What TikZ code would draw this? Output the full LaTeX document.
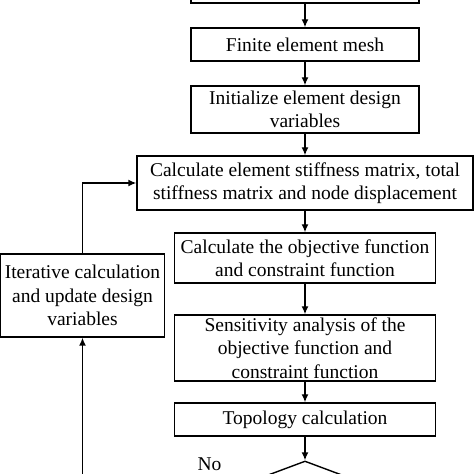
\documentclass[tikz,border=0pt]{standalone}
\usepackage{fontspec}
\setmainfont{Liberation Serif}
\usepackage{tikz}
\usetikzlibrary{arrows.meta,shapes.geometric,positioning}

\tikzset{box/.style={draw, line width=1.4pt, inner sep=0pt, align=center,
                     font=\fontsize{19.5}{23.5}\selectfont},
         arr/.style={line width=1.4pt, -{Latex[length=8pt,width=7pt]}}}

\begin{document}
\begin{tikzpicture}[x=1pt,y=1pt]
\useasboundingbox (0,0) rectangle (474,474);
\clip (0,0) rectangle (474,474);
\node[box, minimum width=228pt, minimum height=40pt] (start) at (305,491) {};
\node[box, minimum width=228pt, minimum height=33pt] (mesh) at (305,429.5) {Finite element mesh};
\node[box, minimum width=228pt, minimum height=47pt] (init) at (305,364.5) {Initialize element design\\variables};
\node[box, minimum width=336pt, minimum height=54pt] (stiff) at (305,291) {Calculate element stiffness matrix, total\\stiffness matrix and node displacement};
\node[box, minimum width=261pt, minimum height=50pt] (obj) at (305,216) {Calculate the objective function\\and constraint function};
\node[box, minimum width=261pt, minimum height=66pt] (sens) at (305,126) {Sensitivity analysis of the\\objective function and\\constraint function};
\node[box, minimum width=261pt, minimum height=33pt] (topo) at (305,54.5) {Topology calculation};
\node[box, minimum width=164pt, minimum height=83pt] (iter) at (82.5,178.5) {Iterative calculation\\and update design\\variables};
\node[box, diamond, minimum width=160pt, minimum height=60pt] (judge) at (305,-17) {};
\node[font=\fontsize{19.5}{23.5}\selectfont, anchor=base, inner sep=0pt] (no) at (209.5,4) {No};
\draw[arr] (start) -- (mesh);
\draw[arr] (mesh) -- (init);
\draw[arr] (init) -- (stiff);
\draw[arr] (stiff) -- (obj);
\draw[arr] (obj) -- (sens);
\draw[arr] (sens) -- (topo);
\draw[arr] (topo) -- (judge);
\draw[arr] (judge.west) -| (iter.south);
\draw[arr] (iter.north) |- (stiff.west);
\end{tikzpicture}
\end{document}
